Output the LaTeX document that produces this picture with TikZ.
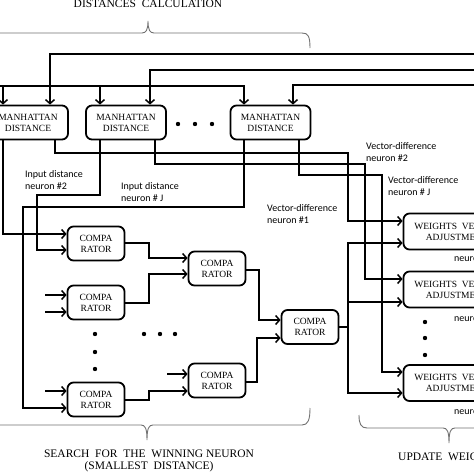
\documentclass[tikz,border=0pt]{standalone}
\usepackage{fontspec}
\setmainfont{Liberation Serif}
\newfontfamily\lblfont{Carlito}
\usetikzlibrary{arrows.meta}
\begin{document}
\begin{tikzpicture}[x=1pt,y=-1pt,
  box/.style={draw, line width=1.8pt, rounded corners=6pt, align=center,
    font=\fontsize{9.5}{11}\selectfont, inner sep=0pt},
  mdbox/.style={box, minimum width=80pt, minimum height=34pt},
  cmpbox/.style={box, minimum width=57pt, minimum height=34pt},
  wvbox/.style={box, minimum width=107pt, minimum height=36pt},
  conn/.style={line width=1.7pt},
  arr/.style={conn, -{Straight Barb[length=4pt,width=9pt,line width=1.5pt]}},
  lab/.style={font=\lblfont\fontsize{10}{12}\selectfont, align=left, anchor=north west, inner sep=0pt},
  bracel/.style={line width=0.9pt, draw=black!55},
  ttl/.style={font=\fontsize{11.5}{13}\selectfont, anchor=base, inner sep=0pt},
  bdot/.style={circle, fill, inner sep=0pt, minimum size=4.4pt}
]
\useasboundingbox (0,0) rectangle (474,474);
\clip (0,0) rectangle (474,474);
\fill[white] (0,0) rectangle (474,474);

% titles and braces
\node[ttl] (tdist) at (148,7.5) {DISTANCES\ \ CALCULATION};
\draw[bracel] (-14,48) .. controls (-14,36) and (-12,33) .. (-6,33) -- (142,33)
  .. controls (146,33) and (148,30) .. (148,21) .. controls (148,30) and (150,33) .. (154,33)
  -- (302,33) .. controls (308,33) and (310,36) .. (310,48);
\draw[bracel] (-16,408) .. controls (-16,420) and (-14,425) .. (-8,425) -- (141,425)
  .. controls (145,425) and (147,428) .. (147,440) .. controls (147,428) and (149,425) .. (153,425)
  -- (302,425) .. controls (308,425) and (310,420) .. (310,408);
\draw[bracel] (359,415) .. controls (359,424) and (361,428) .. (367,428) -- (443,428)
  .. controls (447,428) and (449,431) .. (449,443) .. controls (449,431) and (451,428) .. (455,428)
  -- (531,428) .. controls (537,428) and (539,424) .. (539,415);
\node[ttl] (tsearch) at (149,457) {SEARCH\ \ FOR\ \ THE\ \ WINNING NEURON};
\node[ttl] (tsmall) at (149,469) {(SMALLEST\ \ DISTANCE)};
\node[ttl] (tupd) at (449,460) {UPDATE\ \ WEIGHTS};

% Manhattan distance boxes
\node[mdbox] (md1) at (28,122.5) {MANHATTAN\\DISTANCE};
\node[mdbox] (md2) at (126,122.5) {MANHATTAN\\DISTANCE};
\node[mdbox] (md3) at (270.5,122.5) {MANHATTAN\\DISTANCE};
\node[bdot] (d1) at (178,124) {};
\node[bdot] (d2) at (195,124) {};
\node[bdot] (d3) at (212,124) {};

% comparators
\node[cmpbox] (c1) at (96,243.5) {COMPA\\RATOR};
\node[cmpbox] (c2) at (96,302.5) {COMPA\\RATOR};
\node[cmpbox] (cl) at (96,399.5) {COMPA\\RATOR};
\node[cmpbox] (c3) at (217,268.5) {COMPA\\RATOR};
\node[cmpbox] (c4) at (217,380.5) {COMPA\\RATOR};
\node[cmpbox] (c5) at (310,327) {COMPA\\RATOR};
\node[bdot] (v1) at (95,334) {};
\node[bdot] (v2) at (95,352) {};
\node[bdot] (v3) at (95,369) {};
\node[bdot] (h1) at (144,334) {};
\node[bdot] (h2) at (160,334) {};
\node[bdot] (h3) at (175,334) {};

% weights vector adjustment boxes
\node[wvbox] (wv1) at (457,231.5) {WEIGHTS\ \ VECTOR\\ADJUSTMENT};
\node[wvbox] (wv2) at (457,289.5) {WEIGHTS\ \ VECTOR\\ADJUSTMENT};
\node[wvbox] (wvl) at (457,383) {WEIGHTS\ \ VECTOR\\ADJUSTMENT};
\node[bdot] (w1) at (425,322) {};
\node[bdot] (w2) at (425,338) {};
\node[bdot] (w3) at (425,355) {};

% labels
\node[lab] (l1) at (25,170) {Input distance\\neuron \#2};
\node[lab] (l2) at (121,182) {Input distance\\neuron \# J};
\node[lab] (l3) at (267,204) {Vector-difference\\neuron \#1};
\node[lab] (l4) at (366,142) {Vector-difference\\neuron \#2};
\node[lab] (l5) at (388,176) {Vector-difference\\neuron \# J};
\node[lab] (n1) at (454,255) {neuron \#1};
\node[lab] (n2) at (454,315) {neuron \#2};
\node[lab] (n3) at (454,408) {neuron \# J};

% input lines at the top
\coordinate (inX) at (-10,86);
\coordinate (inA) at (484,54);
\coordinate (inB) at (484,70);
\coordinate (inC) at (484,85);
\draw[arr] (inA) -| (md1.north -| 50,0);
\draw[arr] (inB) -| (md2.north -| 150,0);
\draw[arr] (inC) -| (md3.north -| 293,0);
\draw[arr] (inX) -| (md3.north -| 244,0);
\draw[arr] (inX -| 3,0) -- (md1.north -| 3,0);
\draw[arr] (inX -| 100,0) -- (md2.north -| 100,0);

% outputs of Manhattan distance boxes
\draw[arr] (md1.south -| 3,0) |- (c1.west |- 0,234);
\draw[arr] (md1.south -| 55,0) |- (348,153) |- (wv1.west |- 0,221);
\draw[arr] (md2.south -| 100,0) |- (37,195) |- (c1.west |- 0,250);
\draw[arr] (md2.south -| 155,0) |- (365,164) |- (wv2.west |- 0,279);
\draw[arr] (md3.south -| 244,0) |- (23,207) |- (cl.west |- 0,408);
\draw[arr] (md3.south -| 299,0) |- (382,175) |- (wvl.west |- 0,372);

% short inputs
\coordinate (i2a) at (45,295);
\coordinate (i2b) at (45,312);
\coordinate (ila) at (45,391);
\coordinate (i4a) at (167,374);
\draw[arr] (i2a) -- (c2.west |- i2a);
\draw[arr] (i2b) -- (c2.west |- i2b);
\draw[arr] (ila) -- (cl.west |- ila);
\draw[arr] (i4a) -- (c4.west |- i4a);

% comparator tree
\draw[arr] (c1.east |- 0,243) -| (149,258) -- (c3.west |- 0,258);
\draw[arr] (c2.east |- 0,303) -| (149,274) -- (c3.west |- 0,274);
\draw[arr] (cl.east |- 0,400) -| (149,391) -- (c4.west |- 0,391);
\draw[arr] (c3.east |- 0,270) -| (259,320) -- (c5.west |- 0,320);
\draw[arr] (c4.east |- 0,382) -| (257,338) -- (c5.west |- 0,338);

% winner to weights adjustment
\coordinate (win) at (348,327);
\draw[conn] (c5.east) -- (win);
\draw[arr] (win) |- (wv1.west |- 0,243);
\draw[arr] (win) -- (348,302) -- (wv2.west |- 0,302);
\draw[arr] (win) |- (wvl.west |- 0,393);
\end{tikzpicture}
\end{document}
